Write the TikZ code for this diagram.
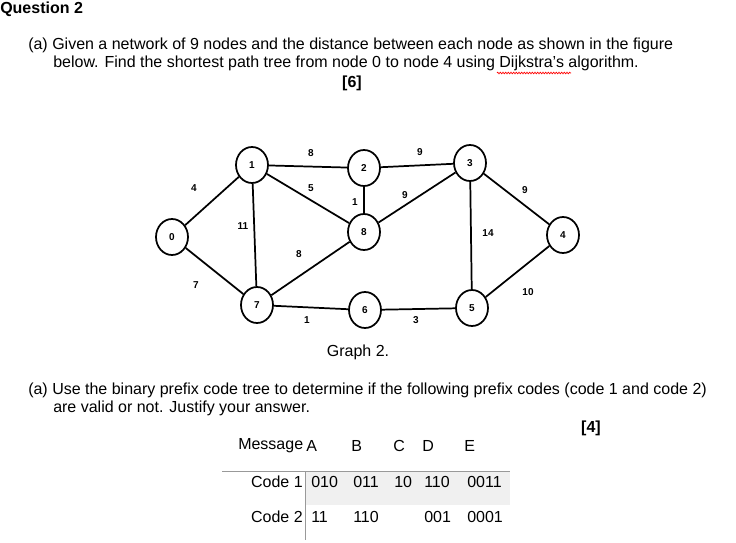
\documentclass[tikz,border=0pt]{standalone}
\usepackage{fontspec}
\setmainfont{Liberation Sans}
\usetikzlibrary{shapes.geometric,decorations.pathmorphing}
\begin{document}
\begin{tikzpicture}[x=0.75pt,y=-0.75pt,
  vtx/.style={ellipse,draw,line width=1.3pt,minimum width=24pt,minimum height=27pt,inner sep=0pt,font=\fontsize{7.5}{8}\selectfont\bfseries},
  edge/.style={line width=1.3pt},
  wl/.style={font=\fontsize{7.5}{8}\selectfont\bfseries},
  txt/.style={anchor=west,inner sep=0pt,font=\fontsize{12}{14}\selectfont},
  cell/.style={anchor=west,inner sep=0pt,font=\fontsize{12}{14}\selectfont}]
\useasboundingbox (0,0) rectangle (736,543);
\node[txt,font=\fontsize{12}{14}\selectfont\bfseries] (q) at (0,9) {Question 2};
\node[txt] (l1) at (28,45) {(a) Given a network of 9 nodes and the distance between each node as shown in the figure};
\node[txt] (l2) at (53,63) {below. Find the shortest path tree from node 0 to node 4 using Dijkstra's algorithm.};
\node[inner sep=0pt,font=\fontsize{12}{14}\selectfont\bfseries] (m6) at (352,83) {[6]};
\coordinate (wa) at (497,73); \coordinate (wb) at (571,73);
\draw[red,line width=0.5pt,decorate,decoration={zigzag,segment length=2pt,amplitude=0.6pt}] (wa) -- (wb);
\node (n0) [vtx] at (172,237) {0};
\node (n1) [vtx] at (252,165) {1};
\node (n2) [vtx] at (364,168) {2};
\node (n3) [vtx] at (470,163) {3};
\node (n4) [vtx] at (563,235) {4};
\node (n5) [vtx] at (472,308) {5};
\node (n6) [vtx] at (365,310) {6};
\node (n7) [vtx] at (257,305) {7};
\node (n8) [vtx] at (364,232) {8};
\draw[edge] (n0)--(n1); \draw[edge] (n0)--(n7); \draw[edge] (n1)--(n2);
\draw[edge] (n1)--(n8); \draw[edge] (n1)--(n7); \draw[edge] (n2)--(n3);
\draw[edge] (n2)--(n8); \draw[edge] (n8)--(n3); \draw[edge] (n8)--(n7);
\draw[edge] (n3)--(n5); \draw[edge] (n3)--(n4); \draw[edge] (n4)--(n5);
\draw[edge] (n7)--(n6); \draw[edge] (n6)--(n5);
\node[wl] (w1) at (311,153) {8};
\node[wl] (w2) at (420,152) {9};
\node[wl] (w3) at (194,188) {4};
\node[wl] (w4) at (311,188) {5};
\node[wl] (w5) at (355,202) {1};
\node[wl] (w6) at (405,195) {9};
\node[wl] (w7) at (243,226) {11};
\node[wl] (w8) at (488,233) {14};
\node[wl] (w9) at (525,190) {9};
\node[wl] (w10) at (299,254) {8};
\node[wl] (w11) at (196,285) {7};
\node[wl] (w12) at (528,292) {10};
\node[wl] (w13) at (307,320) {1};
\node[wl] (w14) at (416,320) {3};
\node[inner sep=0pt,font=\fontsize{12}{14}\selectfont] (g2) at (358,352) {Graph 2.};
\node[txt] (l3) at (28,390) {(a) Use the binary prefix code tree to determine if the following prefix codes (code 1 and code 2)};
\node[txt] (l4) at (53,408) {are valid or not. Justify your answer.};
\node[inner sep=0pt,font=\fontsize{12}{14}\selectfont\bfseries] (m4) at (591,428) {[4]};
\fill[gray!12] (305,471) rectangle (510,505);
\coordinate (h1) at (222,471); \coordinate (h2) at (510,471);
\coordinate (v1) at (305,471); \coordinate (v2) at (305,540);
\draw[gray!80,line width=0.6pt] (h1)--(h2);
\draw[gray!80,line width=0.6pt] (v1)--(v2);
\node[cell] (hm) at (238,446) {Message};
\node[cell] (ha) at (306,446) {A};
\node[cell] (hb) at (351,446) {B};
\node[cell] (hc) at (393,446) {C};
\node[cell] (hd) at (422,446) {D};
\node[cell] (he) at (464,446) {E};
\node[cell,anchor=east] (c1) at (303,482) {Code 1};
\node[cell] (a1) at (311,482) {010};
\node[cell] (b1) at (353,482) {011};
\node[cell] (cc1) at (394,482) {10};
\node[cell] (d1) at (424,482) {110};
\node[cell] (e1) at (467,482) {0011};
\node[cell,anchor=east] (c2) at (303,517) {Code 2};
\node[cell] (a2) at (311,517) {11};
\node[cell] (b2) at (353,517) {110};
\node[cell] (d2) at (424,517) {001};
\node[cell] (e2) at (467,517) {0001};
\end{tikzpicture}
\end{document}
